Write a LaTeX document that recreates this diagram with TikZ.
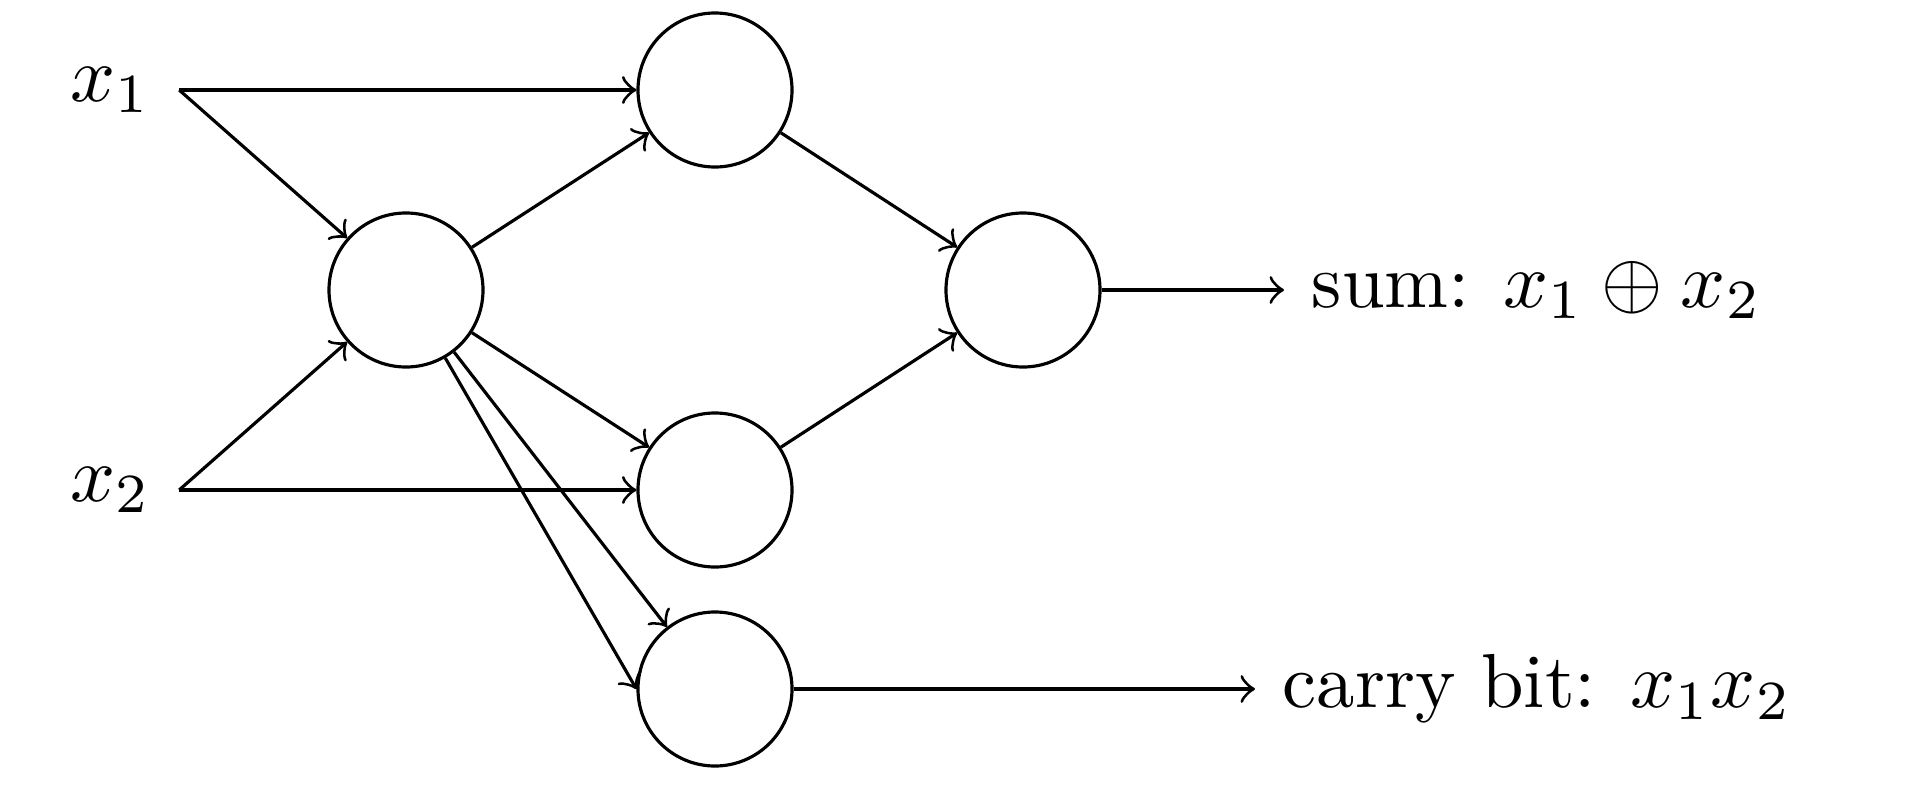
\documentclass[tikz,border=0pt]{standalone}
\begin{document}
\begin{tikzpicture}[x=0.1266pt,y=-0.1266pt,
  every node/.style={font=\fontsize{9.7pt}{11.6pt}\selectfont},
  neuron/.style={draw,circle,minimum size=19.5pt,inner sep=0pt},
  arr/.style={->}]
\useasboundingbox (0,0) rectangle (1920,806);
\node[neuron] (A) at (406,290) {};
\node[neuron] (B) at (715,90) {};
\node[neuron] (C) at (715,490) {};
\node[neuron] (D) at (715,689) {};
\node[neuron] (E) at (1023,290) {};
\node (x1) at (111,90) {$x_1$};
\node (x2) at (111,490) {$x_2$};
\node[anchor=west] (sum) at (1284,290) {sum: $x_1\oplus x_2$};
\node[anchor=west] (carry) at (1255,689) {carry bit: $x_1x_2$};
\draw[arr] (x1.east) -- (B);
\draw[arr] (x1.east) -- (A);
\draw[arr] (x2.east) -- (A);
\draw[arr] (x2.east) -- (C);
\draw[arr] (A) -- (B);
\draw[arr] (A) -- (C);
\draw[arr] (A) -- (D);
\draw[arr] (A) -- (D.west);
\draw[arr] (B) -- (E);
\draw[arr] (C) -- (E);
\draw[arr] (E) -- (sum);
\draw[arr] (D) -- (carry);
\end{tikzpicture}
\end{document}
